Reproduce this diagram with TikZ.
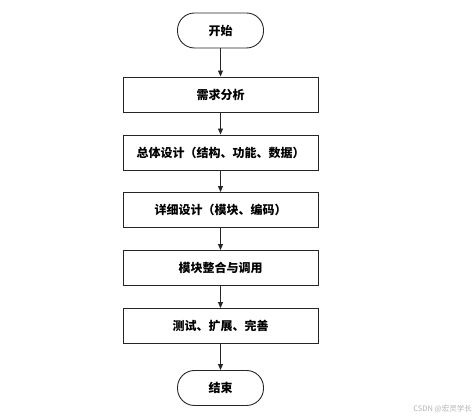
\documentclass[tikz,border=0pt]{standalone}
\usepackage{fontspec}
\newfontfamily\cjk{Noto Sans CJK SC}
\usetikzlibrary{arrows.meta}
\begin{document}
\begin{tikzpicture}[x=1pt,y=1pt,
  stepbox/.style={draw=black!85,line width=0.9pt,minimum width=195pt,minimum height=35pt,inner sep=0pt,font=\cjk\bfseries\fontsize{12}{14}\selectfont},
  termbox/.style={draw=black!85,line width=0.9pt,rounded corners=17pt,minimum width=86pt,minimum height=35pt,inner sep=0pt,font=\cjk\bfseries\fontsize{12}{14}\selectfont},
  arr/.style={draw=black!85,line width=0.9pt,-{Triangle[length=6pt,width=5pt]}}]
\useasboundingbox (0,0) rectangle (474,420);
\node[termbox] (start) at (220.5,389.5) {开始};
\node[stepbox] (s1) at (220.5,325.5) {需求分析};
\node[stepbox] (s2) at (220.5,267.5) {总体设计（结构、功能、数据）};
\node[stepbox] (s3) at (220.5,210) {详细设计（模块、编码）};
\node[stepbox] (s4) at (220.5,152) {模块整合与调用};
\node[stepbox] (s5) at (220.5,94) {测试、扩展、完善};
\node[termbox] (end) at (220.5,32) {结束};
\draw[arr] (start) -- (s1);
\draw[arr] (s1) -- (s2);
\draw[arr] (s2) -- (s3);
\draw[arr] (s3) -- (s4);
\draw[arr] (s4) -- (s5);
\draw[arr] (s5) -- (end);
\node[font=\cjk\fontsize{7.5}{9}\selectfont,text=black!30,anchor=east,inner sep=0pt] (wm) at (472,11) {CSDN @宏灵学长};
\end{tikzpicture}
\end{document}
